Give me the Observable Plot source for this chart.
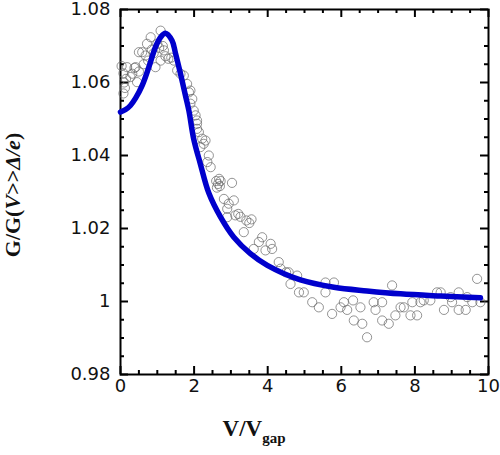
<!DOCTYPE html>
<html><head><meta charset="utf-8">
<script src="https://cdn.jsdelivr.net/npm/d3@7"></script>
<script src="https://cdn.jsdelivr.net/npm/@observablehq/plot@0.6"></script>
<style>body{margin:0;background:#fff}</style>
</head><body><div id="chart"></div>
<script>
// Measured points (open circles)
const measX = [0.03,0.08,0.10,0.12,0.08,0.15,0.18,0.27,0.32,0.38,0.41,0.45,0.50,0.50,0.59,0.63,0.68,0.72,0.75,0.82,0.85,0.90,0.95,1.00,1.05,1.09,1.09,1.15,1.18,1.22,1.30,1.38,1.45,1.54,1.63,1.72,1.81,1.86,1.90,1.95,1.90,1.99,2.04,2.08,2.08,2.08,2.13,2.17,2.22,2.26,2.31,2.40,2.36,2.45,2.60,2.65,2.70,2.72,2.62,2.68,3.03,2.81,2.94,3.08,2.90,2.90,3.12,3.20,3.26,3.42,3.50,3.56,3.35,3.85,3.76,4.08,4.12,3.62,3.94,4.30,4.35,4.50,4.57,4.80,4.62,4.85,4.98,5.57,5.80,5.57,5.21,5.39,5.75,5.98,6.07,6.16,6.32,6.34,6.52,6.57,6.70,6.88,6.93,7.11,7.11,7.29,7.38,7.47,7.61,7.70,7.88,8.06,7.93,8.15,8.24,8.42,8.60,8.70,8.79,8.97,9.01,9.19,9.19,9.38,9.42,9.56,9.69,9.78];
const measY = [1.0645,1.0625,1.0600,1.0585,1.0570,1.0610,1.0642,1.0615,1.0624,1.0640,1.0642,1.0601,1.0630,1.0683,1.0683,1.0650,1.0674,1.0706,1.0660,1.0724,1.0690,1.0680,1.0642,1.0706,1.0695,1.0742,1.0660,1.0700,1.0688,1.0672,1.0665,1.0668,1.0660,1.0633,1.0624,1.0619,1.0596,1.0573,1.0578,1.0555,1.0542,1.0523,1.0510,1.0496,1.0487,1.0473,1.0464,1.0423,1.0446,1.0432,1.0441,1.0400,1.0382,1.0368,1.0330,1.0322,1.0316,1.0330,1.0312,1.0336,1.0325,1.0281,1.0268,1.0277,1.0254,1.0231,1.0236,1.0240,1.0232,1.0222,1.0215,1.0225,1.0190,1.0176,1.0163,1.0158,1.0144,1.0144,1.0140,1.0108,1.0090,1.0080,1.0080,1.0071,1.0048,1.0025,1.0025,1.0052,1.0052,1.0025,0.9998,0.9984,0.9966,0.9984,0.9998,0.9977,1.0003,0.9948,0.9984,0.9939,0.9902,0.9998,0.9977,0.9998,0.9948,0.9939,1.0044,0.9962,0.9984,0.9984,0.9962,0.9962,0.9998,0.9998,1.0003,1.0003,1.0025,1.0025,0.9977,1.0012,0.9998,1.0025,0.9977,0.9977,1.0012,0.9998,1.0062,0.9998];
// Theory curve (blue)
const fitX = [0,0.14,0.27,0.41,0.59,0.77,0.95,1.09,1.22,1.40,1.49,1.63,1.77,1.86,1.99,2.17,2.40,2.72,3.08,3.53,3.99,4.89,5.80,6.70,7.61,8.70,9.78];
const fitY = [1.0519,1.0526,1.0537,1.0557,1.0592,1.0642,1.0697,1.0724,1.0735,1.0715,1.0682,1.0624,1.0562,1.0522,1.0445,1.0377,1.0297,1.0231,1.0176,1.0131,1.0099,1.0059,1.0039,1.0029,1.0021,1.0015,1.0010];
// Axes
const xTicks = [0,2,4,6,8,10];
const xTickLabels = ["0","2","4","6","8","10"];
const xMinor = [0.5,1,1.5,2.5,3,3.5,4.5,5,5.5,6.5,7,7.5,8.5,9,9.5];
const yTicks = [0.98,1.00,1.02,1.04,1.06,1.08];
const yTickLabels = ["0.98","1","1.02","1.04","1.06","1.08"];
const yMinor = [0.985,0.99,0.995,1.005,1.01,1.015,1.025,1.03,1.035,1.045,1.05,1.055,1.065,1.07,1.075];

const meas = measX.map((x,i)=>({x, y: measY[i]}));
const fit = fitX.map((x,i)=>({x, y: fitY[i]}));

const W = 500, H = 455, mT = 9, mR = 12, mB = 81, mL = 120;
const plotW = W - mL - mR, plotH = H - mT - mB;
const tw = 2;
const tickBottom = (data, len) => Plot.tickX(data, {x: d=>d, insetTop: plotH - len, stroke:"black", strokeWidth: tw});
const tickTop = (data, len) => Plot.tickX(data, {x: d=>d, insetBottom: plotH - len, stroke:"black", strokeWidth: tw});
const tickLeft = (data, len) => Plot.tickY(data, {y: d=>d, insetRight: plotW - len, stroke:"black", strokeWidth: tw});
const tickRight = (data, len) => Plot.tickY(data, {y: d=>d, insetLeft: plotW - len, stroke:"black", strokeWidth: tw});

const plot = Plot.plot({
  width: W, height: H,
  marginTop: mT, marginRight: mR, marginBottom: mB, marginLeft: mL,
  style: {fontFamily: "DejaVu Sans", background: "#fff"},
  x: {domain: [0,10]},
  y: {domain: [0.98,1.08]},
  marks: [
    Plot.frame({stroke:"black", strokeWidth:2}),
    tickBottom(xTicks, 8), tickBottom(xMinor, 4),
    tickTop(xTicks, 8), tickTop(xMinor, 4),
    tickLeft(yTicks, 8), tickLeft(yMinor, 4),
    tickRight(yTicks, 8), tickRight(yMinor, 4),
    Plot.dot(meas, {x:"x", y:"y", r:4.6, fill:"none", stroke:"#666", strokeWidth:0.7}),
    Plot.line(fit, {x:"x", y:"y", stroke:"#0000cc", strokeWidth:5.5, curve:"catmull-rom"}),
    Plot.axisX(xTicks, {anchor: "bottom", tickSize:0, tickPadding:5, fontSize:18, label:null, fill:"#111",
      tickFormat: d => xTickLabels[xTicks.indexOf(d)]}),
    Plot.axisY(yTicks, {anchor: "left", tickSize:0, tickPadding:10, fontSize:18, label:null, fill:"#111",
      tickFormat: d => yTickLabels[yTicks.indexOf(d)]})
  ]
});
document.getElementById("chart").appendChild(plot);

const svg = d3.select(plot);
const xl = svg.append("text").attr("x", 254).attr("y", 436)
  .attr("font-family", "Liberation Serif").attr("font-weight", "bold").attr("font-size", 23).attr("fill", "#111");
xl.append("tspan").text("V/V");
xl.append("tspan").attr("font-size", 15).attr("dy", 7).text("gap");

const yl = svg.append("text").attr("transform", "translate(20,195) rotate(-90)").attr("text-anchor", "middle")
  .attr("font-family", "Liberation Serif").attr("font-weight", "bold").attr("font-size", 22).attr("fill", "#111");
yl.append("tspan").text("G/G(");
yl.append("tspan").attr("font-style", "italic").text("V");
yl.append("tspan").text(">>");
yl.append("tspan").attr("font-style", "italic").text("Δ/e");
yl.append("tspan").text(")");
</script></body></html>
